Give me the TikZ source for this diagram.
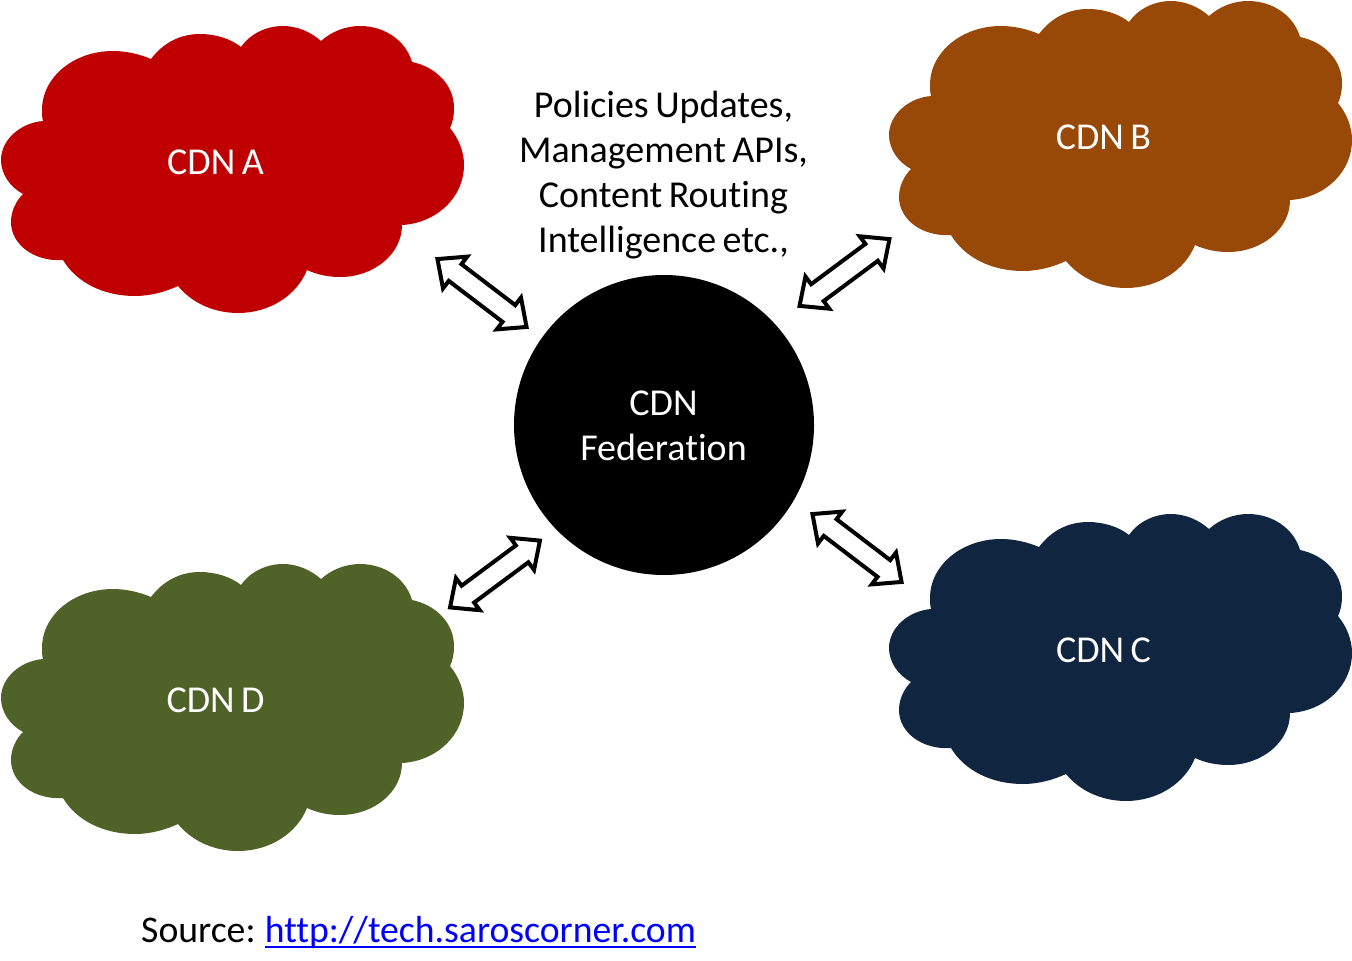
\documentclass[tikz,border=0pt]{standalone}
\usepackage{fontspec}
\setmainfont[Ligatures=NoCommon,WordSpace=0.75]{Carlito}
\usetikzlibrary{shapes.arrows}
\definecolor{cdnred}{HTML}{C00000}
\definecolor{cdnbrown}{HTML}{984807}
\definecolor{cdnnavy}{HTML}{10253F}
\definecolor{cdngreen}{HTML}{4F6228}
\definecolor{linkblue}{HTML}{0000FF}
\newcommand{\srcul}[1]{\setbox0=\hbox{#1}\rlap{\rule[-5.5pt]{\wd0}{2pt}}\box0}
\newcommand{\cdncloud}[4]{%
\begin{scope}[shift={(#1)}]
\fill[#2] (43,121) .. controls (42,117) and (42,114) .. (42,110)
 .. controls (42,77) and (74,51) .. (113,51)
 .. controls (126,51) and (139,54) .. (151,59)
 .. controls (163,43) and (180,34) .. (200,34)
 .. controls (216,34) and (231,39) .. (241,47)
 .. controls (250,34) and (266,26) .. (283,26)
 .. controls (297,26) and (311,32) .. (321,41)
 .. controls (331,32) and (345,26) .. (360,26)
 .. controls (385,26) and (406,41) .. (412,62)
 .. controls (436,67) and (454,85) .. (454,108)
 .. controls (454,115) and (453,122) .. (450,128)
 .. controls (459,139) and (464,152) .. (464,165)
 .. controls (464,197) and (437,223) .. (402,225)
 .. controls (402,254) and (374,277) .. (340,277)
 .. controls (329,277) and (318,275) .. (307,270)
 .. controls (297,295) and (270,313) .. (238,313)
 .. controls (214,313) and (192,303) .. (178,286)
 .. controls (165,292) and (150,296) .. (135,296)
 .. controls (103,296) and (76,282) .. (63,260)
 .. controls (35,262) and (11,245) .. (11,222)
 .. controls (11,211) and (16,201) .. (23,194)
 .. controls (10,187) and (1,174) .. (1,160)
 .. controls (1,140) and (20,123) .. (43,121) -- cycle;
\node[cloudlabel] (#3) at (215.5,174) {#4};
\end{scope}}
\tikzset{
 x=1pt,y=-1pt,
 bigtext/.style={font=\fontsize{38}{45}\selectfont,inner sep=0pt,align=center},
 cloudlabel/.style={bigtext,text=white,anchor=base},
 blockarrow/.style={double arrow,draw=black,fill=white,line width=4pt,
   minimum height=112pt,minimum width=37pt,inner sep=8.5pt,
   double arrow head extend=9.5pt,double arrow tip angle=84,miter limit=4},
}
\begin{document}
\begin{tikzpicture}
\useasboundingbox (0,0) rectangle (1352,961);
\cdncloud{0,0}{cdnred}{cdna}{CDN A}
\cdncloud{888,-25}{cdnbrown}{cdnb}{CDN B}
\cdncloud{888,488}{cdnnavy}{cdnc}{CDN C}
\cdncloud{0,538}{cdngreen}{cdnd}{CDN D}
\node[circle,fill=black,minimum size=300pt,inner sep=0pt] (hub) at (664,425) {};
\node[bigtext,text=white] (hublabel) at (663.5,426) {CDN\\Federation};
\node[bigtext] (topics) at (663.5,175.5) {Policies Updates,\\Management APIs,\\Content Routing\\Intelligence etc.,};
\node[blockarrow,rotate=-37.3] (arrowa) at (482,293) {};
\node[blockarrow,rotate=36.6] (arrowb) at (844.5,272.5) {};
\node[blockarrow,rotate=-37.3] (arrowc) at (857,548) {};
\node[blockarrow,rotate=36.6] (arrowd) at (495,574) {};
\node[font=\fontsize{37.7}{45}\selectfont,inner sep=0pt,anchor=base west] (source) at (141,942) {Source: \textcolor{linkblue}{\srcul{http://tech.saroscorner.com}}};
\end{tikzpicture}
\end{document}
